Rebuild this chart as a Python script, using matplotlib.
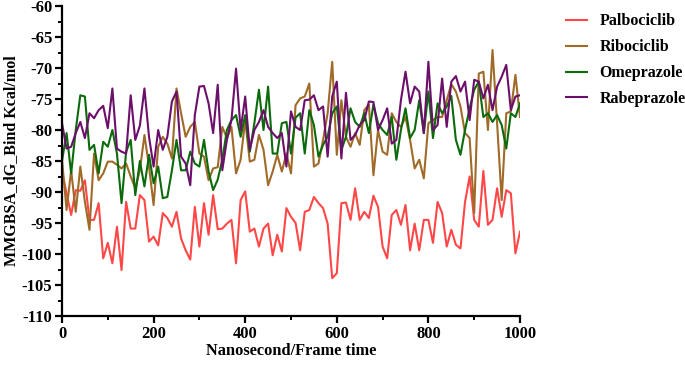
import numpy as np
import matplotlib
matplotlib.use("Agg")
import matplotlib.pyplot as plt
from matplotlib.ticker import MultipleLocator

time_ns = list(range(0, 1001, 10))

palbociclib = [
    -86.7, -90.2, -93.7, -89.7, -89.8, -88.1, -94.5, -94.5, -91.8, -100.7, -98.2, -101.5, -95.6, -102.6, -91.6, -95.9, -95.9, -90.5,
    -91.3, -98.0, -97.2, -98.6, -93.4, -94.2, -95.6, -93.2, -97.5, -99.4, -100.9, -92.4, -98.8, -91.8, -96.9, -90.5, -96.0,
    -95.9, -95.1, -94.5, -101.5, -91.3, -89.9, -96.4, -95.9, -98.8, -95.9, -95.1, -100.2, -96.9, -99.6, -92.6, -94.0, -95.0,
    -99.4, -93.2, -92.9, -90.8, -91.8, -92.6, -95.1, -103.9, -103.1, -91.8, -91.7, -94.5, -89.4, -94.5, -93.2, -94.2, -90.6,
    -92.4, -98.8, -100.7, -93.7, -92.9, -95.3, -92.1, -99.4, -95.1, -99.4, -94.5, -94.5, -98.2, -91.6, -93.4, -98.8, -96.1,
    -98.5, -99.1, -91.6, -87.5, -94.5, -95.6, -86.6, -95.3, -94.5, -89.4, -94.0, -89.7, -90.2, -99.9, -96.4,
]

ribociclib = [
    -84.8, -92.9, -86.5, -93.2, -85.9, -91.6, -96.1, -83.8, -88.1, -87.0, -85.1, -85.1, -85.6, -86.2, -85.4, -87.5, -89.4, -86.5,
    -80.8, -85.9, -92.1, -82.7, -81.1, -82.2, -84.6, -73.3, -77.3, -81.1, -79.5, -78.7, -83.8, -84.3, -88.1, -86.2, -86.0,
    -79.5, -81.3, -79.5, -87.0, -84.8, -78.4, -85.1, -84.8, -80.8, -83.2, -88.9, -86.7, -84.0, -86.7, -83.8, -87.0, -76.0,
    -74.9, -74.6, -72.5, -85.9, -85.4, -81.6, -77.3, -69.0, -84.0, -75.2, -81.1, -82.7, -80.5, -82.4, -76.8, -75.9, -87.3,
    -80.0, -83.5, -84.0, -77.3, -78.7, -79.5, -77.9, -81.6, -86.2, -84.8, -87.8, -78.9, -78.4, -77.9, -77.9, -75.2, -72.6,
    -73.8, -76.2, -80.5, -81.3, -93.4, -70.9, -70.6, -80.0, -67.1, -78.9, -91.3, -77.3, -77.0, -71.1, -77.9,
]

omeprazole = [
    -85.0, -80.5, -87.0, -80.0, -74.4, -74.6, -83.2, -82.4, -87.0, -81.9, -82.7, -80.0, -83.8, -91.8, -83.5, -81.6, -90.5, -85.0,
    -89.1, -84.0, -88.6, -85.9, -91.0, -90.8, -86.5, -81.6, -86.5, -86.5, -83.5, -85.4, -85.9, -81.6, -86.7, -89.7, -88.0,
    -84.8, -80.0, -78.4, -77.6, -81.1, -77.6, -83.5, -78.9, -73.5, -80.0, -73.0, -83.8, -83.8, -78.9, -78.7, -83.8, -78.0,
    -77.3, -83.8, -76.8, -79.2, -84.3, -82.4, -81.1, -77.3, -76.2, -83.2, -81.1, -76.5, -78.7, -79.5, -77.3, -80.5, -75.9,
    -78.9, -80.0, -80.8, -77.9, -84.8, -80.0, -76.5, -81.3, -80.0, -75.2, -80.5, -73.8, -81.3, -75.7, -77.3, -76.2, -74.5,
    -81.6, -84.0, -80.0, -76.5, -73.5, -72.2, -77.9, -77.3, -78.7, -77.6, -79.2, -83.0, -77.3, -77.9, -75.7,
]

rabeprazole = [
    -78.9, -83.0, -82.7, -80.5, -78.7, -81.3, -77.3, -78.1, -76.8, -76.1, -79.7, -73.3, -83.0, -83.5, -83.8, -74.4, -81.6, -79.3,
    -73.3, -81.1, -85.9, -80.0, -83.2, -81.1, -75.4, -73.8, -84.3, -85.4, -88.9, -77.6, -73.0, -72.9, -75.7, -80.5, -72.7,
    -86.5, -81.6, -78.4, -70.1, -80.0, -74.6, -83.2, -80.0, -78.7, -76.8, -79.5, -80.5, -81.3, -80.5, -85.9, -77.0, -79.5,
    -80.0, -75.2, -75.1, -74.4, -76.8, -76.2, -84.3, -74.6, -72.2, -84.6, -74.0, -81.6, -80.8, -79.2, -78.4, -75.4, -75.5,
    -80.0, -78.4, -76.5, -82.2, -81.6, -75.2, -70.6, -75.7, -73.0, -73.8, -80.5, -69.0, -80.0, -79.2, -71.7, -79.5, -72.2,
    -71.3, -73.8, -72.2, -78.4, -71.9, -72.2, -74.9, -72.7, -76.8, -73.0, -71.4, -69.5, -76.8, -74.6, -74.4,
]

series_names = ["Palbociclib", "Ribociclib", "Omeprazole", "Rabeprazole"]
series_colors = ["#FF4747", "#A06A28", "#0B6B0B", "#6B0F6B"]
x_ticks = [0, 200, 400, 600, 800, 1000]
y_ticks = [-110, -105, -100, -95, -90, -85, -80, -75, -70, -65, -60]

plt.rcParams['font.family'] = ['Liberation Serif', 'DejaVu Serif']
plt.rcParams['font.weight'] = 'bold'

fig = plt.figure(figsize=(6.85, 3.71), dpi=100)
ax = fig.add_axes([62/685, 1 - 316/371, (520-62)/685, (316-6)/371])

all_series = [palbociclib, ribociclib, omeprazole, rabeprazole]
for vals, name, col in zip(all_series, series_names, series_colors):
    ax.plot(time_ns, vals, color=col, lw=1.5, label=name)

ax.set_xlim(0, 1000)
ax.set_ylim(-110, -60)
ax.set_xticks(x_ticks)
ax.set_yticks(y_ticks)
ax.set_yticklabels([str(v) for v in y_ticks])
ax.xaxis.set_minor_locator(MultipleLocator(100))
ax.yaxis.set_minor_locator(MultipleLocator(2.5))
for s in ["top", "right"]:
    ax.spines[s].set_visible(False)
for s in ["left", "bottom"]:
    ax.spines[s].set_linewidth(1.6)
    ax.spines[s].set_color("black")
ax.tick_params(which="major", length=5, width=1.6, labelsize=12, pad=2)
ax.tick_params(which="minor", length=3, width=1.4)
for lab in ax.get_xticklabels() + ax.get_yticklabels():
    lab.set_fontweight("bold")

ax.set_xlabel("Nanosecond/Frame time", fontsize=11.8, fontweight="bold", labelpad=1)
ax.set_ylabel("MMGBSA_dG_Bind Kcal/mol", fontsize=11.5, fontweight="bold", labelpad=2)

handles, labels = ax.get_legend_handles_labels()
fig.legend(handles, labels, loc="upper left", bbox_to_anchor=(0.812, 0.99),
           frameon=False, prop={"weight": "bold", "size": 11.5},
           handlelength=1.3, handletextpad=0.8, labelspacing=0.62,
           borderaxespad=0.2)

fig.savefig("out.png", dpi=100)
